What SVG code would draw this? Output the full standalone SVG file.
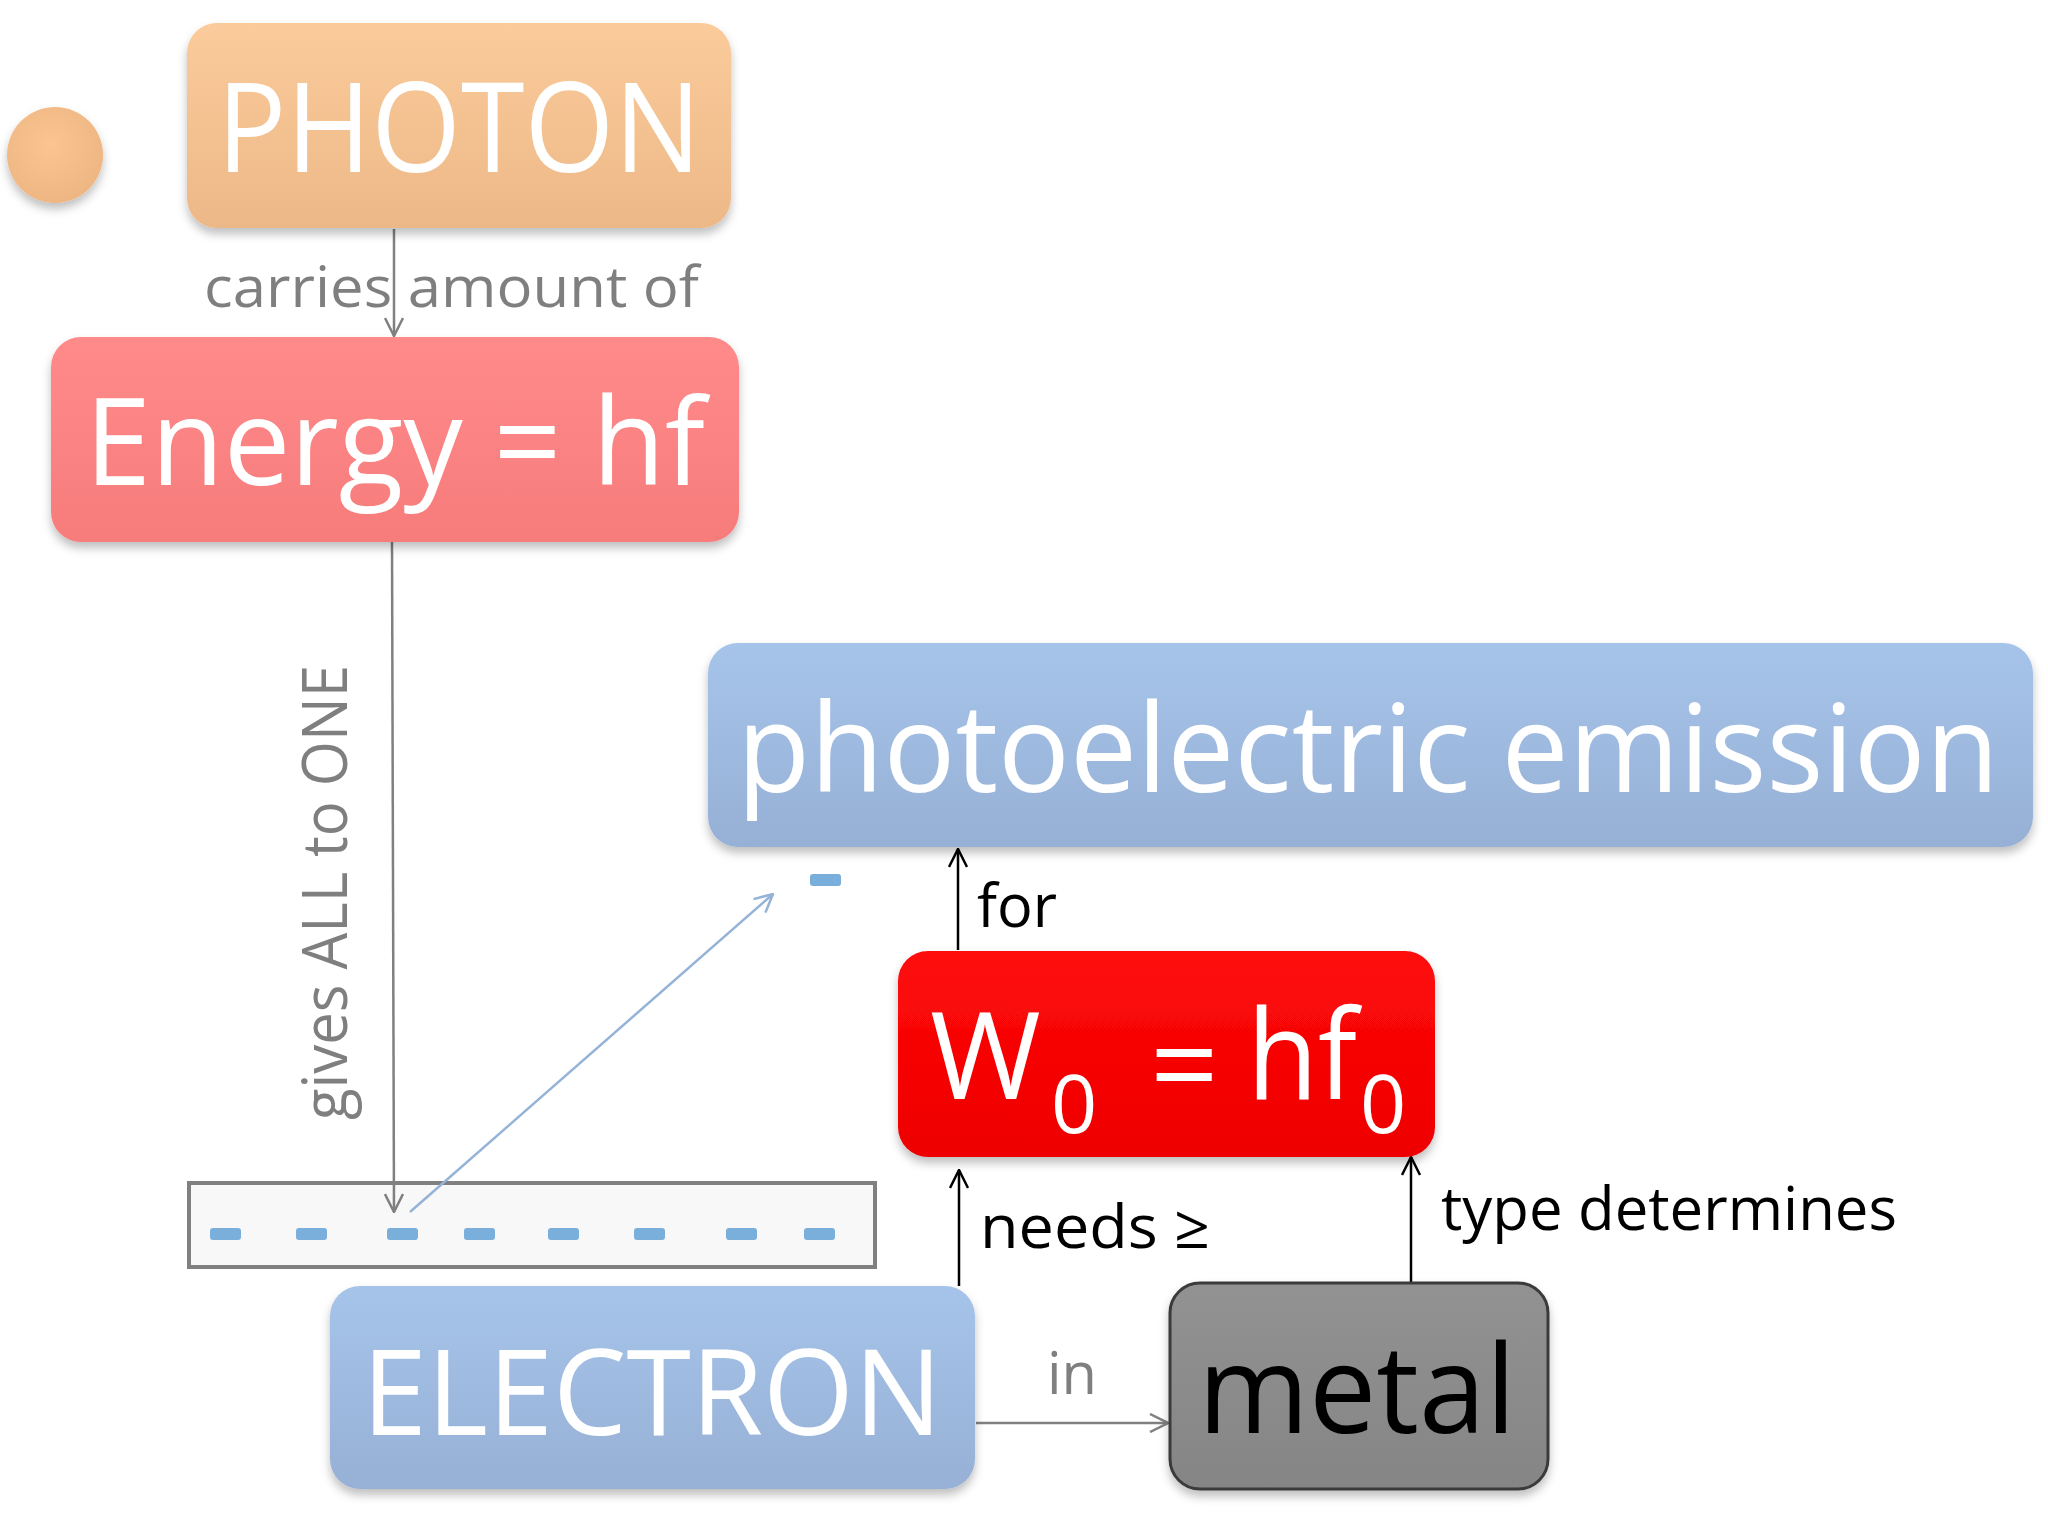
<svg xmlns="http://www.w3.org/2000/svg" width="2048" height="1536" viewBox="0 0 2048 1536">
<defs>
<style>
.t{font-family:"Open Sans","Liberation Sans",sans-serif;}
.w{fill:#FFFFFF;}
.g{fill:#7F7F7F;}
.k{fill:#000000;}
.lg{stroke:#808080;stroke-width:2.5;fill:none;}
.lk{stroke:#000000;stroke-width:2.5;fill:none;}
.lb{stroke:#95B3D7;stroke-width:2.5;fill:none;}
.dash{fill:#7AAEDB;}
</style>
<linearGradient id="gPhoton" x1="0" y1="0" x2="0" y2="1"><stop offset="0" stop-color="#FBCB9B"/><stop offset="1" stop-color="#EDB887"/></linearGradient>
<linearGradient id="gEnergy" x1="0" y1="0" x2="0" y2="1"><stop offset="0" stop-color="#FF8A8A"/><stop offset="1" stop-color="#F77C7C"/></linearGradient>
<linearGradient id="gBlue" x1="0" y1="0" x2="0" y2="1"><stop offset="0" stop-color="#A6C4EA"/><stop offset="1" stop-color="#97B0D5"/></linearGradient>
<linearGradient id="gRed" x1="0" y1="0" x2="0" y2="1"><stop offset="0" stop-color="#FF0A0A"/><stop offset="1" stop-color="#EE0000"/></linearGradient>
<linearGradient id="gMetal" x1="0" y1="0" x2="0" y2="1"><stop offset="0" stop-color="#929292"/><stop offset="1" stop-color="#858585"/></linearGradient>
<radialGradient id="gBall" cx="0.45" cy="0.4" r="0.6"><stop offset="0" stop-color="#FBC592"/><stop offset="1" stop-color="#EDB682"/></radialGradient>
<filter id="sh" x="-10%" y="-10%" width="120%" height="130%"><feDropShadow dx="0" dy="6" stdDeviation="5" flood-color="#000" flood-opacity="0.25"/></filter>
<marker id="aG" viewBox="0 0 20 20" refX="19" refY="10" markerWidth="20" markerHeight="20" markerUnits="userSpaceOnUse" orient="auto"><path d="M1,1 L19,10 L1,19" fill="none" stroke="#808080" stroke-width="2.5"/></marker>
<marker id="aK" viewBox="0 0 20 20" refX="19" refY="10" markerWidth="20" markerHeight="20" markerUnits="userSpaceOnUse" orient="auto"><path d="M1,1 L19,10 L1,19" fill="none" stroke="#000000" stroke-width="2.5"/></marker>
<marker id="aB" viewBox="0 0 20 20" refX="19" refY="10" markerWidth="20" markerHeight="20" markerUnits="userSpaceOnUse" orient="auto"><path d="M1,1 L19,10 L1,19" fill="none" stroke="#95B3D7" stroke-width="2.5"/></marker>
</defs>
<rect width="2048" height="1536" fill="#FFFFFF"/>

<g id="ball">
<circle cx="55" cy="155" r="48" fill="url(#gBall)" filter="url(#sh)"/>
</g>

<g id="electron-row">
<rect x="189" y="1183" width="686" height="84" fill="#F8F8F8" stroke="#808080" stroke-width="4"/>
<rect class="dash" x="210" y="1228" width="31" height="12" rx="3"/>
<rect class="dash" x="296" y="1228" width="31" height="12" rx="3"/>
<rect class="dash" x="387" y="1228" width="31" height="12" rx="3"/>
<rect class="dash" x="464" y="1228" width="31" height="12" rx="3"/>
<rect class="dash" x="548" y="1228" width="31" height="12" rx="3"/>
<rect class="dash" x="634" y="1228" width="31" height="12" rx="3"/>
<rect class="dash" x="726" y="1228" width="31" height="12" rx="3"/>
<rect class="dash" x="804" y="1228" width="31" height="12" rx="3"/>
</g>

<g id="emitted-electron">
<rect class="dash" x="810" y="874" width="31" height="12" rx="3"/>
</g>

<g id="connectors">
<line class="lg" x1="394" y1="229" x2="394" y2="336" marker-end="url(#aG)"/>
<line class="lg" x1="392" y1="542" x2="394" y2="1212" marker-end="url(#aG)"/>
<line class="lb" x1="410" y1="1212" x2="773" y2="894" marker-end="url(#aB)"/>
<line class="lk" x1="958" y1="950" x2="958" y2="849" marker-end="url(#aK)"/>
<line class="lk" x1="959" y1="1286" x2="959" y2="1170" marker-end="url(#aK)"/>
<line class="lk" x1="1411" y1="1283" x2="1411" y2="1157" marker-end="url(#aK)"/>
<line class="lg" x1="976" y1="1423" x2="1168" y2="1423" marker-end="url(#aG)"/>
<text class="t g" x="204" y="307" font-size="56" textLength="495" lengthAdjust="spacingAndGlyphs">carries amount of</text>
<text class="t g" x="347" y="1120" font-size="62" textLength="455" lengthAdjust="spacingAndGlyphs" transform="rotate(-90 347 1120)">gives ALL to ONE</text>
<text class="t k" x="977" y="927" font-size="60" textLength="80" lengthAdjust="spacingAndGlyphs">for</text>
<text class="t k" x="980" y="1248" font-size="60" textLength="230" lengthAdjust="spacingAndGlyphs">needs ≥</text>
<text class="t k" x="1441" y="1230" font-size="60" textLength="456" lengthAdjust="spacingAndGlyphs">type determines</text>
<text class="t g" x="1047" y="1394" font-size="58" textLength="50" lengthAdjust="spacingAndGlyphs">in</text>
</g>

<g id="photon">
<rect x="187" y="23" width="544" height="205" rx="30" fill="url(#gPhoton)" filter="url(#sh)"/>
<text class="t w" x="217" y="172" font-size="124" textLength="484" lengthAdjust="spacingAndGlyphs">PHOTON</text>
</g>

<g id="energy">
<rect x="51" y="337" width="688" height="205" rx="30" fill="url(#gEnergy)" filter="url(#sh)"/>
<text class="t w" x="85" y="485" font-size="120" textLength="620" lengthAdjust="spacingAndGlyphs">Energy = hf</text>
</g>

<g id="photoelectric">
<rect x="708" y="643" width="1325" height="204" rx="30" fill="url(#gBlue)" filter="url(#sh)"/>
<text class="t w" x="737" y="792" font-size="122" textLength="1262" lengthAdjust="spacingAndGlyphs">photoelectric emission</text>
</g>

<g id="workfunction">
<rect x="898" y="951" width="537" height="206" rx="30" fill="url(#gRed)" filter="url(#sh)"/>
<text class="t w" x="930" y="1099" font-size="120">W<tspan x="1051" y="1133" font-size="81">0</tspan><tspan x="1150" y="1108">=</tspan><tspan x="1247" y="1099" font-size="124" textLength="110" lengthAdjust="spacingAndGlyphs">hf</tspan><tspan x="1360" y="1133" font-size="81">0</tspan></text>
</g>

<g id="electron">
<rect x="330" y="1286" width="645" height="203" rx="30" fill="url(#gBlue)" filter="url(#sh)"/>
<text class="t w" x="362" y="1435" font-size="119" textLength="580" lengthAdjust="spacingAndGlyphs">ELECTRON</text>
</g>

<g id="metal">
<rect x="1170" y="1283" width="378" height="206" rx="30" fill="url(#gMetal)" stroke="#3A3A3A" stroke-width="3" filter="url(#sh)"/>
<text class="t k" x="1198" y="1433" font-size="123" textLength="318" lengthAdjust="spacingAndGlyphs">metal</text>
</g>
</svg>
